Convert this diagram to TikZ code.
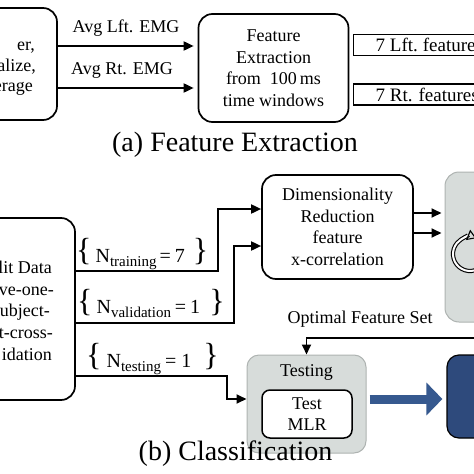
\documentclass[tikz,border=0pt]{standalone}
\usepackage{fontspec}
\setmainfont{Liberation Serif}
\usetikzlibrary{arrows.meta,calc}
\definecolor{panelgray}{HTML}{D7DCDA}
\definecolor{paneledge}{HTML}{AEB3B1}
\definecolor{navy}{HTML}{2E4A7C}
\definecolor{arrowblue}{HTML}{36598F}
\newcommand{\bigbr}[1]{\raisebox{2pt}{\fontsize{32}{32}\selectfont #1}}
\newcommand{\subtxt}[1]{\raisebox{-4pt}{\fontsize{15}{15}\selectfont #1}}
\begin{document}
\begin{tikzpicture}[x=1pt,y=-1pt,
  every node/.style={font=\fontsize{18}{21.6}\selectfont, inner sep=0pt},
  box/.style={draw, line width=1.7pt, rounded corners=14pt, align=center},
  featbox/.style={draw, line width=1.4pt, anchor=west, minimum height=21pt, inner xsep=22pt,
                  font=\fontsize{19}{19}\selectfont},
  panel/.style={draw=paneledge, line width=1pt, fill=panelgray, rounded corners=14pt},
  arr/.style={line width=1.8pt, -{Triangle[length=10pt,width=9pt]}},
  bigarr/.style={line width=9pt, draw=arrowblue, -{Triangle[length=16pt,width=32pt]}},
  caption/.style={font=\fontsize{28}{28}\selectfont, anchor=base},
  rtext/.style={anchor=base east},
  lab/.style={anchor=base},
  brlab/.style={anchor=base west, font=\fontsize{20}{20}\selectfont}]
\useasboundingbox (0,0) rectangle (474,474);
\clip (0,0) rectangle (474,474);

% ---------- (a) Feature Extraction ----------
\node[box, minimum width=200pt, minimum height=112pt] (filt) at (-43,64) {};
\node[rtext] (f1) at (35,50) {er,};
\node[rtext] (f2) at (36,71) {alize,};
\node[rtext] (f3) at (33,91) {erage};

\node[box, minimum width=150pt, minimum height=108pt] (fe) at (273.5,68)
  {Feature\\Extraction\\from\ \ 100\,ms\\time windows};

\node[lab] (lavg) at (126,32) {Avg Lft. EMG};
\node[lab] (ravg) at (122,74) {Avg Rt. EMG};
\draw[arr, shorten >=4pt] (filt.east |- 0,46) -- (fe.west |- 0,46);
\draw[arr, shorten >=4pt] (filt.east |- 0,88) -- (fe.west |- 0,88);

\node[featbox] (lf) at (353,45) {7 Lft.\hspace{5pt}features};
\node[featbox] (rf) at (353,94.5) {7 Rt.\hspace{6pt}features};

\node[caption] (capa) at (235,151) {(a) Feature Extraction};

% ---------- (b) Classification ----------
\node[box, minimum width=200pt, minimum height=182pt] (split) at (-25,309) {};
\node[rtext] (s1) at (52,273) {lit Data};
\node[rtext] (s2) at (54,295) {ve-one-};
\node[rtext] (s3) at (50,316) {ubject-};
\node[rtext] (s4) at (53,338) {t-cross-};
\node[rtext] (s5) at (52,360) {idation};

\node[brlab] (ntr) at (76,262) {\bigbr{\{}\hspace{4pt}N\subtxt{training}\hspace{3pt}=\hspace{4pt}7\hspace{8pt}\bigbr{\}}};
\node[brlab] (nva) at (77,313) {\bigbr{\{}\hspace{4pt}N\subtxt{validation}\hspace{4pt}=\hspace{4pt}1\hspace{9pt}\bigbr{\}}};
\node[brlab] (nte) at (86,367) {\bigbr{\{}\hspace{5pt}N\subtxt{testing}\hspace{4pt}=\hspace{5pt}1\hspace{12pt}\bigbr{\}}};

\node[box, minimum width=151pt, minimum height=104pt] (dr) at (337.5,227)
  {Dimensionality\\Reduction\\feature\\x-correlation};

\node[panel, minimum width=200pt, minimum height=150pt] (opt) at (545,247) {};
\draw[line width=1.1pt, double=white, double distance=2pt,
      -{Triangle[open, length=9pt, width=11pt, line width=1.1pt]}]
  (470,254) ++(40:17) arc[start angle=40, end angle=292, radius=17];

\draw[arr, shorten >=3pt] (dr.east |- 0,213) -- (opt.west |- 0,213);
\draw[arr, shorten >=3pt] (dr.east |- 0,233) -- (opt.west |- 0,233);

\node[panel, rounded corners=12pt, minimum width=119pt, minimum height=98pt] (test) at (306.5,404) {};
\node[lab] (testlab) at (306.5,376) {Testing};
\node[draw, line width=1.5pt, fill=white, rounded corners=8pt, align=center,
      minimum width=90pt, minimum height=48pt] (mlr) at (307,414) {Test\\MLR};

\node[draw, line width=1.2pt, fill=navy, rounded corners=12pt,
      minimum width=200pt, minimum height=83pt] (dark) at (547,396.5) {};

\node[lab] (optlab) at (360,323) {Optimal Feature Set};
\coordinate (optR) at (480,338);
\draw[arr] (optR) -| (test.north);

\draw[arr] (split.east |- 0,271) -- (218,271) -- (218,209) -- (dr.west |- 0,209);
\draw[arr] (split.east |- 0,323) -- (234,323) -- (234,246) -- (dr.west |- 0,246);
\draw[arr] (split.east |- 0,376) -- (227,376) -- (227,399) -- (test.west |- 0,399);

\draw[bigarr, shorten <=3pt, shorten >=4pt] (test.east |- 0,399) -- (dark.west |- 0,399);

\node[caption] (capb) at (235.5,460) {(b) Classification};
\end{tikzpicture}
\end{document}
